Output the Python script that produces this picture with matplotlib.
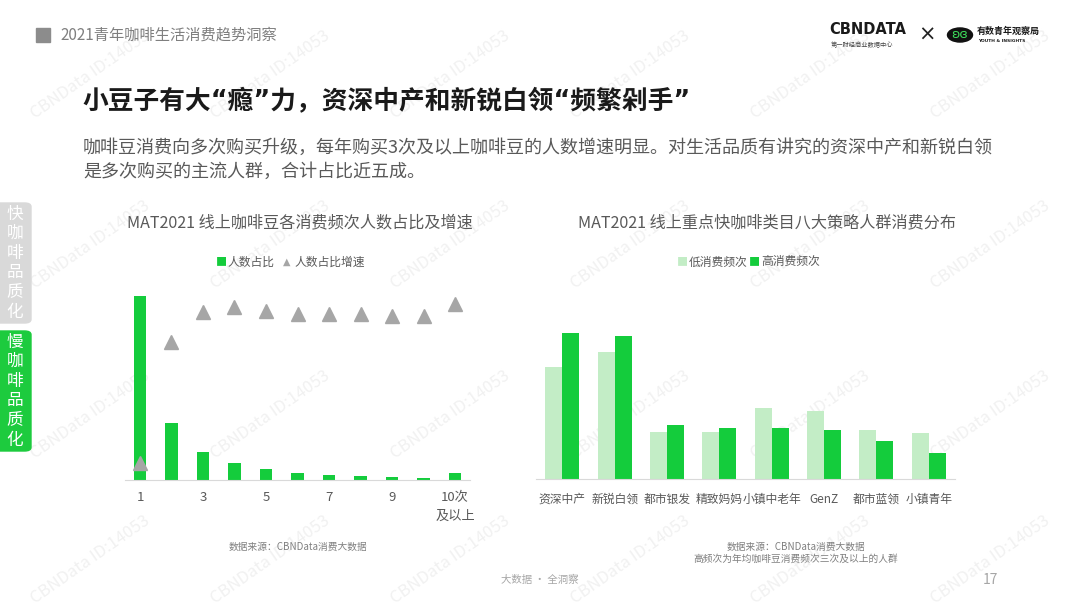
import matplotlib
matplotlib.use("Agg")
import matplotlib.pyplot as plt
from matplotlib.patches import Rectangle, FancyBboxPatch, Circle
import numpy as np

plt.rcParams['font.family'] = ['Noto Sans CJK SC', 'DejaVu Sans']

# ---------------- data ----------------
freq_labels = ["1", "", "3", "", "5", "", "7", "", "9", "", "10次\n及以上"]
freq_share = [55.0, 17.0, 8.4, 5.1, 3.3, 2.1, 1.5, 1.05, 0.75, 0.45, 2.2]      # 人数占比
freq_growth = [5.0, 40.6, 49.4, 50.9, 49.7, 48.8, 48.8, 48.7, 48.2, 48.2, 51.8]  # 人数占比增速

groups = ["资深中产", "新锐白领", "都市银发", "精致妈妈", "小镇中老年", "GenZ", "都市蓝领", "小镇青年"]
low_freq = [20.0, 22.7, 8.4, 8.4, 12.7, 12.1, 8.8, 8.2]   # 低消费频次
high_freq = [26.1, 25.5, 9.6, 9.1, 9.1, 8.8, 6.8, 4.6]    # 高消费频次

GREEN = "#14CC3C"
LIGHT = "#C3EDC6"
TRI = "#A6A6A6"
TXT = "#595959"

W, H = 1080, 608
fig = plt.figure(figsize=(W / 100, H / 100), dpi=100)
fig.patch.set_facecolor("white")


def fx(x):
    return x / W


def fy(y):
    return 1 - y / H


def rect_ax(x0, y0, x1, y1):
    ax = fig.add_axes([fx(x0), fy(y1), fx(x1) - fx(x0), fy(y0) - fy(y1)])
    ax.set_zorder(1)
    return ax


# ---------------- watermarks ----------------
for row, wy in enumerate([75, 245, 415, 560]):
    for wx in [90, 270, 450, 630, 810, 990]:
        fig.text(fx(wx), fy(wy), "CBNData ID:14053", rotation=35,
                 color="#F1F1F1", fontsize=12, ha="center", va="center", zorder=-1)

# ---------------- header ----------------
fig.patches.append(Rectangle((fx(36), fy(42)), fx(14), fy(28) - fy(42), transform=fig.transFigure,
                             color="#8C8C8C", zorder=3))
fig.text(fx(60), fy(35), "2021青年咖啡生活消费趋势洞察", fontsize=11, color="#7F7F7F",
         ha="left", va="center")

# logos
fig.text(fx(829), fy(30), "CBNDATA", fontsize=10.5, fontweight="bold", color="#1A1A1A",
         ha="left", va="center", family=["DejaVu Sans"])
fig.text(fx(831), fy(45), "第一财经商业数据中心", fontsize=4.5, color="#444444", ha="left", va="center")
fig.text(fx(927), fy(35), "×", fontsize=15, color="#222222", ha="center", va="center",
         family=["DejaVu Sans"])
fig.patches.append(Circle((fx(960), fy(35)), 12.5 / W, transform=fig.transFigure, color="#111111",
                          zorder=3))
fig.text(fx(960), fy(35), "ʚɞ", fontsize=9, color="#3DDC5A", ha="center", va="center",
         family=["DejaVu Sans"], zorder=4)
fig.text(fx(977), fy(31), "有数青年观察局", fontsize=6.5, fontweight="bold", color="#1A1A1A",
         ha="left", va="center")
fig.text(fx(978), fy(41), "YOUTH & INSIGHTS", fontsize=3.2, fontweight="bold", color="#1A1A1A",
         ha="left", va="center", family=["DejaVu Sans"])

# title + subtitle
fig.text(fx(82), fy(101), "小豆子有大“瘾”力，资深中产和新锐白领“频繁剁手”", fontsize=18.5,
         fontweight="bold", color="#1A1A1A", ha="left", va="center",
         family=["DejaVu Sans", "Noto Sans CJK SC"])
fig.text(fx(83), fy(148), "咖啡豆消费向多次购买升级，每年购买3次及以上咖啡豆的人数增速明显。对生活品质有讲究的资深中产和新锐白领",
         fontsize=13.0, color=TXT, ha="left", va="center")
fig.text(fx(83), fy(172), "是多次购买的主流人群，合计占比近五成。", fontsize=13.0, color=TXT,
         ha="left", va="center")

# ---------------- side tabs ----------------
for (y0, y1, col, txt) in [(203, 323, "#D9D9D9", "快咖啡品质化"), (331, 451, "#1DCB3E", "慢咖啡品质化")]:
    fig.patches.append(FancyBboxPatch((fx(-10), fy(y1)), fx(41), fy(y0) - fy(y1),
                                      boxstyle="round,pad=0,rounding_size=0.006",
                                      transform=fig.transFigure, color=col, zorder=3))
    for i, ch in enumerate(txt):
        fig.text(fx(15), fy(y0 + 11 + i * 19.6), ch, fontsize=12, color="white",
                 ha="center", va="center", zorder=4)

# ---------------- left chart ----------------
fig.text(fx(300), fy(223), "MAT2021 线上咖啡豆各消费频次人数占比及增速", fontsize=11.6, color=TXT,
         ha="center", va="center")
fig.text(fx(221), fy(262), "■", fontsize=8, color=GREEN, ha="center", va="center")
fig.text(fx(227), fy(262), "人数占比", fontsize=8.5, color=TXT, ha="left", va="center")
fig.text(fx(287), fy(262), "▲", fontsize=7, color=TRI, ha="center", va="center", family=["DejaVu Sans"])
fig.text(fx(294), fy(262), "人数占比增速", fontsize=8.5, color=TXT, ha="left", va="center")

axL = rect_ax(125, 290, 470, 480)
x = np.arange(1, len(freq_share) + 1)
axL.bar(x, freq_share, width=0.39, color=GREEN, zorder=2)
axL.set_xlim(0.524, 11.476)
axL.set_ylim(0, 56.8)
axT = axL.twinx()
axT.set_zorder(2)
axT.plot(x, freq_growth, linestyle="none", marker="^", markersize=10.5, color=TRI, zorder=3)
axT.set_ylim(0, 55.9)
for a in (axL, axT):
    for s in ("top", "right", "left"):
        a.spines[s].set_visible(False)
    a.set_yticks([])
    a.patch.set_alpha(0)
axL.spines["bottom"].set_color("#D9D9D9")
axT.spines["bottom"].set_visible(False)
axL.set_xticks(x)
axL.set_xticklabels(freq_labels, fontsize=9.5, color=TXT, linespacing=1.6, va="top")
axL.tick_params(axis="x", length=0, pad=8)

fig.text(fx(298), fy(547), "数据来源：CBNData消费大数据", fontsize=7, color="#7F7F7F",
         ha="center", va="center")

# ---------------- right chart ----------------
fig.text(fx(767), fy(223), "MAT2021 线上重点快咖啡类目八大策略人群消费分布", fontsize=11.6, color=TXT,
         ha="center", va="center")
fig.text(fx(682), fy(262), "■", fontsize=8, color=LIGHT, ha="center", va="center")
fig.text(fx(689), fy(262), "低消费频次", fontsize=8.5, color=TXT, ha="left", va="center")
fig.text(fx(754), fy(262), "■", fontsize=8, color=GREEN, ha="center", va="center")
fig.text(fx(761), fy(262), "高消费频次", fontsize=8.5, color=TXT, ha="left", va="center")

axR = rect_ax(536, 290, 955, 479)
g = np.arange(len(groups))
bw = 0.325
axR.bar(g - bw / 2, low_freq, width=bw, color=LIGHT, zorder=2)
axR.bar(g + bw / 2, high_freq, width=bw, color=GREEN, zorder=2)
axR.set_xlim(-0.5, 7.5)
axR.set_ylim(0, 33.75)
for s in ("top", "right", "left"):
    axR.spines[s].set_visible(False)
axR.spines["bottom"].set_color("#D9D9D9")
axR.set_yticks([])
axR.patch.set_alpha(0)
axR.set_xticks(g)
axR.set_xticklabels(groups, fontsize=8.5, color=TXT)
axR.tick_params(axis="x", length=0, pad=10)

fig.text(fx(796), fy(547), "数据来源：CBNData消费大数据", fontsize=7, color="#7F7F7F",
         ha="center", va="center")
fig.text(fx(796), fy(559), "高频次为年均咖啡豆消费频次三次及以上的人群", fontsize=7, color="#7F7F7F",
         ha="center", va="center")

# ---------------- footer ----------------
fig.text(fx(540), fy(580), "大数据 · 全洞察", fontsize=7.5, color="#A6A6A6", ha="center", va="center")
fig.text(fx(990), fy(580), "17", fontsize=10, color="#A6A6A6", ha="center", va="center")

fig.savefig("out.png", dpi=100, facecolor="white")
